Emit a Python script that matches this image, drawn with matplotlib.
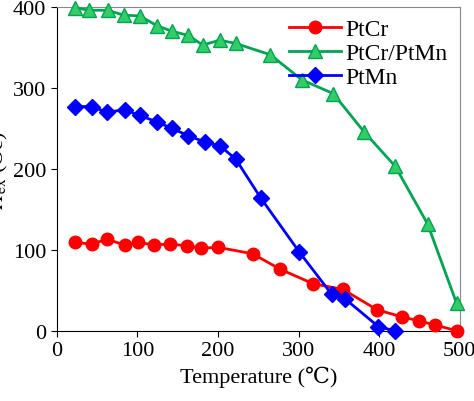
import matplotlib
matplotlib.use("Agg")
import matplotlib.pyplot as plt

plt.rcParams['font.family'] = ['Liberation Serif', 'DejaVu Serif']
plt.rcParams['mathtext.fontset'] = 'stix'

ptcr_x = [23,43,62,84,101,121,140,161,179,200,243,277,318,355,397,428,450,469,496]
ptcr_y = [109,107,113,106,109,106,107,105,102,103,95,76,58,51,26,17,12,7,0]
mix_x = [23,40,63,83,103,124,143,163,181,202,222,265,304,343,381,420,460,496]
mix_y = [399,396,396,390,389,377,370,365,353,359,355,341,310,293,246,203,132,34]
ptmn_x = [23,43,62,84,103,124,143,163,184,203,222,253,301,341,358,399,419]
ptmn_y = [277,277,270,273,266,258,250,241,233,228,212,164,97,45,39,5,0]

fig, ax = plt.subplots(figsize=(4.74, 4.02), dpi=100)
fig.subplots_adjust(left=0.12, right=0.97, top=0.98, bottom=0.175)
ax.plot(ptcr_x, ptcr_y, '-o', color='#ff0000', ms=9, lw=2, label='PtCr', clip_on=False, zorder=3)
ax.plot(mix_x, mix_y, '-^', color='#00a651', mfc='#33cc66', ms=10, lw=2, label='PtCr/PtMn', clip_on=False, zorder=3)
ax.plot(ptmn_x, ptmn_y, '-D', color='#0000ff', ms=8, lw=2, label='PtMn', clip_on=False, zorder=3)
ax.set_xlim(0, 500)
ax.set_ylim(0, 400)
ax.set_xticks(range(0, 501, 100))
ax.set_yticks(range(0, 401, 100))
ax.tick_params(labelsize=16, direction='out', length=4)
for s in ax.spines.values():
    s.set_color('#888888')
ax.spines['left'].set_color('black')
ax.spines['bottom'].set_color('black')
ax.set_xlabel('Temperature (\u2103)', fontsize=16)
ax.set_ylabel(r'$H_{\mathrm{ex}}$ (Oe)', fontsize=16, labelpad=2)
ax.legend(loc='upper right', frameon=False, fontsize=17, handlelength=2.2,
          borderaxespad=0.1, labelspacing=0.1, handletextpad=0.2)
fig.savefig('out.png')
